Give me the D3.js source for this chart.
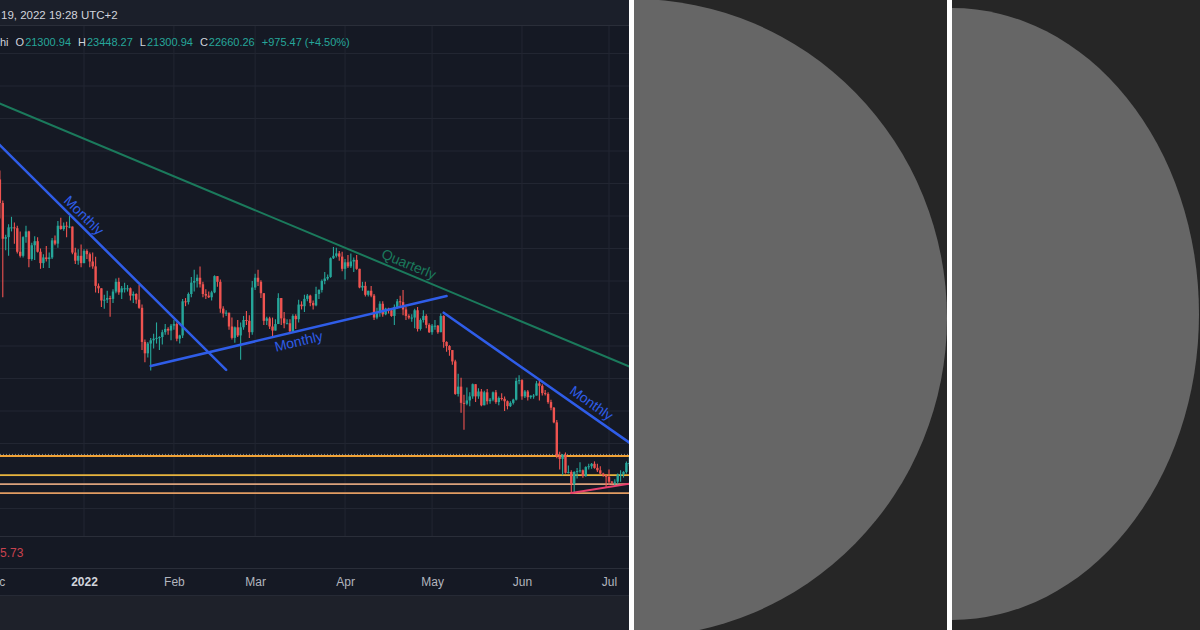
<!DOCTYPE html>
<html><head><meta charset="utf-8">
<script src="https://cdn.jsdelivr.net/npm/d3@7"></script>
<style>
html,body{margin:0;padding:0;background:#262626;}
svg{display:block;}
</style></head><body>
<svg id="c" width="1200" height="630"></svg>
<script>
// ---------------- DATA ----------------
const startDate = "2021-11-30";          // first daily candle
const firstOpen = 57800;
// daily closes, highs, lows (BTC/USD), Nov 30 2021 .. Jul 8 2022
const closes = [
  56950,
  57200,56500,53600,49200,49400,50600,50600,50500,47600,47100,49400,50100,46700,48400,48900,47600,46200,46900,46700,46900,49000,48600,50800,50400,50800,50700,50700,47500,46500,47100,46200,
  47700,47300,46400,45800,43400,43100,41600,41700,41900,41800,42700,43900,42600,43100,43100,43100,42200,42400,41700,40700,36500,35100,36300,36700,36900,37000,37100,37700,38100,37900,38500,
  38700,36900,37300,41500,41400,42400,43800,44000,44400,43600,42400,42200,42000,42600,44600,43900,40600,40000,40100,38400,37000,38300,37300,38300,39200,39100,37700,43200,
  44400,43900,42500,39100,39400,38400,37900,38700,41900,39400,38800,38800,37800,39700,39300,41100,40900,41800,42200,41300,41000,42400,42900,44000,44300,44500,46800,47100,47400,47000,45500,
  46300,45800,46400,46600,45500,43200,43400,42300,42800,42200,39500,40100,41200,39900,40600,40400,39700,40800,41500,41400,40500,39700,39500,39500,40400,38100,39200,39700,38600,37700,
  38500,38500,37700,39700,36500,36000,35500,34100,30100,31000,29000,28900,29300,29800,31300,29800,30400,28700,30300,29200,29400,30300,29100,29600,29500,29200,28600,29000,29400,31700,31800,
  29800,30400,29700,29900,29900,31400,31100,30200,30100,29100,28400,26600,22500,22100,22600,20400,20500,19000,20500,20600,20700,20000,21100,21200,21500,21000,20700,20300,20100,19900,
  19300,19200,19300,20200,20200,20500,21600,21600
];
const highs = [
  59200,
  59000,57400,57600,53900,49700,51000,51900,51200,50800,50100,49500,50800,50200,48700,49500,49400,48000,47300,48300,47500,49300,49600,51400,51800,51200,51300,52000,50700,48100,47900,48500,
  47900,47900,47500,47500,47000,43700,43100,42300,42800,42200,43000,44300,44400,43400,43800,43500,43200,42700,42500,43500,41100,36800,36500,37000,37500,38900,37200,38000,38700,38300,38700,
  39200,38900,37400,41800,41900,42600,44500,45400,44800,45800,43900,43000,42700,42800,44700,44600,44200,40900,40400,40100,39500,38400,39200,38900,39700,40300,39800,44000,
  44900,45400,44100,42500,39600,39600,39500,39300,42500,41900,40200,39300,39300,39900,39900,41700,41500,42300,42400,42300,41600,43300,43000,44200,45100,44800,46900,48200,48100,47700,47600,
  46700,47200,47400,46900,47200,45500,43900,43900,42800,43400,42400,40700,41500,41500,40700,40700,40600,41100,41800,42200,42900,40800,39900,39900,40600,40800,39400,40400,39900,38800,
  38700,39200,38600,40000,39800,36600,36100,35500,34300,32600,32100,30000,30900,30300,31400,31300,30800,30700,30500,30700,29600,30400,30600,29800,30200,29800,29300,29200,29500,32100,32400,
  31900,30600,30600,29900,30100,31700,31800,31300,30600,30300,29400,28500,26900,23000,22700,22900,21300,20700,20600,21000,21700,20800,21200,21500,21600,21800,21500,21200,20400,20200,
  20800,19400,19600,20300,20700,20600,21800,22400
];
const lows = [
  55900,
  56500,55800,51700,42000,47800,47100,50100,48600,47400,46900,46900,48700,45700,46500,46600,47500,45500,45600,46400,45600,46700,48400,48100,50300,50200,49400,50500,47300,46100,46000,45700,
  46200,46700,45700,45500,42600,42500,40800,40600,41300,39600,41300,42500,42300,41800,42600,42700,41600,41300,41200,40600,35500,34000,34600,33000,35700,36300,35500,36200,37400,37400,36700,
  38000,36600,36300,37000,40900,41100,42000,42700,43200,43200,42000,41800,41900,41600,42500,43300,40100,39500,39700,38000,36800,36400,37100,34300,38000,38600,37000,37400,
  42900,43400,41900,38600,38600,38100,37200,37900,38700,38600,38200,38700,37700,37600,38100,38900,40500,40200,41500,40900,40500,40900,41800,42600,43600,44100,44400,46700,46900,46500,45200,
  44200,45600,45600,45100,45400,43100,42800,42100,42100,42000,39200,39300,39600,39600,39800,40000,39600,38600,40600,40900,39800,39200,39300,39000,38200,37800,37900,38900,38200,37600,
  37400,38000,37500,37700,35800,35300,34800,33700,30000,29800,27800,25700,28700,28600,29500,29100,29500,28600,28700,28800,28900,29200,28900,28700,29300,28000,28200,28500,28800,29300,31300,
  29400,29600,29300,29500,29500,29900,29300,29900,29900,28900,28100,26500,22200,20800,20100,20300,20300,17800,18000,19700,20400,19800,19900,20800,20900,20900,20500,20200,19900,18600,
  18900,19000,18800,19000,19300,19800,20300,21200
];

const monthTicks  = ["2021-12-01","2022-01-01","2022-02-01","2022-03-01","2022-04-01","2022-05-01","2022-06-01","2022-07-01"];
const monthLabels = ["Dec","2022","Feb","Mar","Apr","May","Jun","Jul"];
const priceGrid   = [16000,20000,24000,28000,32000,36000,40000,44000,48000,52000,56000,60000,64000,68000,72000,76000];

const levelPrices = [22460, 20120, 19010, 17900];
const levelColors = ["#f0a236", "#e8b43e", "#dba27c", "#e29c62"];
const lastPrice   = 22660.26;

const trendFrom   = [["2021-11-30",61800],["2022-01-24",33540],["2021-11-30",66290],["2022-05-05",40100],["2022-06-18",17900]];
const trendTo     = [["2022-02-19",33050],["2022-05-06",42150],["2022-07-10",33170],["2022-07-10",23610],["2022-07-10",19170]];
const trendColors = ["#2f5de8","#2f5de8","#1b7a5c","#2f5de8","#e8406e"];
const trendWidths = [2.5,2.5,2,2.5,2];
const trendLabels = ["Monthly","Monthly","Quarterly","Monthly",""];
const labelAt     = [["2022-01-01",52100],["2022-03-16",36600],["2022-04-23",46100],["2022-06-25",29000],null];

const headerDate  = "19, 2022 19:28 UTC+2";
const symbolTail  = "hi";
const ohlcKeys    = ["O","H","L","C"];
const ohlcValues  = ["21300.94","23448.27","21300.94","22660.26"];
const changeText  = "+975.47 (+4.50%)";
const paneValue   = "5.73";

// ---------------- DRAW ----------------
const svg = d3.select("#c");
const parse = d3.utcParse("%Y-%m-%d");
const W = 629, plotTop = 26, plotBottom = 536;
const FONT = "'Liberation Sans', Arial, sans-serif";

const x = d3.scaleUtc().domain([parse("2022-01-01"), parse("2022-07-01")]).range([84, 609]);
const y = d3.scaleLinear().domain([16000, 48000]).range([508.5, 248.5]);

svg.append("rect").attr("x",0).attr("y",0).attr("width",W).attr("height",630).attr("fill","#151924");

const defs = svg.append("defs");
defs.append("clipPath").attr("id","plot").append("rect")
  .attr("x",0).attr("y",plotTop).attr("width",W).attr("height",plotBottom-plotTop);
defs.append("clipPath").attr("id","chartClip").append("rect")
  .attr("x",0).attr("y",0).attr("width",W).attr("height",630);
defs.append("clipPath").attr("id","p1").append("rect").attr("x",634).attr("y",0).attr("width",313).attr("height",630);
defs.append("clipPath").attr("id","p2").append("rect").attr("x",952).attr("y",0).attr("width",248).attr("height",630);

const plot = svg.append("g").attr("clip-path","url(#plot)");

plot.selectAll("line.hg").data(priceGrid).join("line")
  .attr("x1",0).attr("x2",W).attr("y1",d=>y(d)).attr("y2",d=>y(d))
  .attr("stroke","#222632").attr("stroke-width",1);
plot.selectAll("line.vg").data(monthTicks).join("line")
  .attr("x1",d=>x(parse(d))).attr("x2",d=>x(parse(d))).attr("y1",plotTop).attr("y2",plotBottom)
  .attr("stroke","#222632").attr("stroke-width",1);

plot.append("line").attr("x1",0).attr("x2",W).attr("y1",y(lastPrice)).attr("y2",y(lastPrice))
  .attr("stroke","#7c8a93").attr("stroke-width",1).attr("stroke-dasharray","1,2");

plot.selectAll("line.lvl").data(levelPrices).join("line")
  .attr("x1",0).attr("x2",W).attr("y1",d=>y(d)).attr("y2",d=>y(d))
  .attr("stroke",(d,i)=>levelColors[i]).attr("stroke-width",(d,i)=>i===0?2:1.8);

const start = parse(startDate);
const candles = closes.map((c,i)=>{
  const o = i===0 ? firstOpen : closes[i-1];
  return {date: d3.utcDay.offset(start,i), o, c, h: Math.max(highs[i],o,c), l: Math.min(lows[i],o,c)};
});
const UP="#26a69a", DOWN="#ef5350";
const cg = plot.append("g");
cg.selectAll("line.w").data(candles).join("line")
  .attr("x1",d=>x(d.date)).attr("x2",d=>x(d.date))
  .attr("y1",d=>y(d.h)).attr("y2",d=>y(d.l))
  .attr("stroke",d=>d.c>=d.o?UP:DOWN).attr("stroke-width",1.1);
cg.selectAll("rect.b").data(candles).join("rect")
  .attr("x",d=>x(d.date)-1.2).attr("width",2.4)
  .attr("y",d=>Math.min(y(d.o),y(d.c)))
  .attr("height",d=>Math.max(1,Math.abs(y(d.o)-y(d.c))))
  .attr("fill",d=>d.c>=d.o?UP:DOWN);

trendFrom.forEach((f,i)=>{
  const t = trendTo[i];
  const x1=x(parse(f[0])), y1=y(f[1]), x2=x(parse(t[0])), y2=y(t[1]);
  plot.append("line").attr("x1",x1).attr("y1",y1).attr("x2",x2).attr("y2",y2)
    .attr("stroke",trendColors[i]).attr("stroke-width",trendWidths[i]).attr("stroke-linecap","round");
  if (trendLabels[i]) {
    const ang = Math.atan2(y2-y1, x2-x1)*180/Math.PI;
    const lx = x(parse(labelAt[i][0])), ly = y(labelAt[i][1]);
    plot.append("text").attr("transform",`translate(${lx},${ly}) rotate(${ang})`)
      .attr("text-anchor","middle").attr("dominant-baseline","central")
      .attr("font-family",FONT).attr("font-size",14)
      .attr("fill",trendColors[i]).text(trendLabels[i]);
  }
});

// header band
svg.append("rect").attr("x",0).attr("y",0).attr("width",W).attr("height",25).attr("fill","#1b1f2a");
svg.append("line").attr("x1",0).attr("x2",W).attr("y1",25.5).attr("y2",25.5).attr("stroke","#2a2e39");
svg.append("text").attr("x",1).attr("y",19).attr("font-family",FONT).attr("font-size",11.5)
  .attr("fill","#d1d4dc").text(headerDate);

let cx = 0;
function seg(txt, col, gapAfter){
  const t = svg.append("text").attr("x",cx).attr("y",45.5).attr("font-family",FONT)
    .attr("font-size",11).attr("fill",col).text(txt);
  cx += t.node().getComputedTextLength() + gapAfter;
}
seg(symbolTail,"#d1d4dc",7);
ohlcKeys.forEach((k,i)=>{ seg(k,"#d1d4dc",1); seg(ohlcValues[i],"#26a69a",7); });
seg(changeText,"#26a69a",0);

// indicator pane
svg.append("line").attr("x1",0).attr("x2",W).attr("y1",536.5).attr("y2",536.5).attr("stroke","#2a2e39");
svg.append("text").attr("x",0).attr("y",556.5).attr("font-family",FONT).attr("font-size",12)
  .attr("fill","#c9424f").text(paneValue);

// time axis
svg.append("line").attr("x1",0).attr("x2",W).attr("y1",568.5).attr("y2",568.5).attr("stroke","#2a2e39");
const axis = d3.axisBottom(x).tickValues(monthTicks.map(parse))
  .tickFormat((d,i)=>monthLabels[i]).tickSize(0).tickPadding(8);
const ag = svg.append("g").attr("clip-path","url(#chartClip)")
  .append("g").attr("transform","translate(0,569)").call(axis);
ag.select(".domain").remove();
ag.selectAll("text").attr("font-family",FONT).attr("font-size",12)
  .attr("fill",(d,i)=>monthLabels[i]==="2022"?"#d1d4dc":"#b2b5be")
  .attr("font-weight",(d,i)=>monthLabels[i]==="2022"?"bold":"normal");

// bottom band
svg.append("rect").attr("x",0).attr("y",595).attr("width",W).attr("height",35).attr("fill","#1e212a");
svg.append("line").attr("x1",0).attr("x2",W).attr("y1",595.5).attr("y2",595.5).attr("stroke","#262a35");

// right panels
svg.append("rect").attr("x",629).attr("y",0).attr("width",5).attr("height",630).attr("fill","#ffffff");
svg.append("rect").attr("x",634).attr("y",0).attr("width",313).attr("height",630).attr("fill","#262626");
svg.append("rect").attr("x",947).attr("y",0).attr("width",5).attr("height",630).attr("fill","#ffffff");
svg.append("rect").attr("x",952).attr("y",0).attr("width",248).attr("height",630).attr("fill","#262626");
svg.append("ellipse").attr("clip-path","url(#p1)").attr("cx",634).attr("cy",318).attr("rx",313).attr("ry",319).attr("fill","#666666");
svg.append("ellipse").attr("clip-path","url(#p2)").attr("cx",952).attr("cy",314).attr("rx",247).attr("ry",306).attr("fill","#666666");
</script>
</body></html>
